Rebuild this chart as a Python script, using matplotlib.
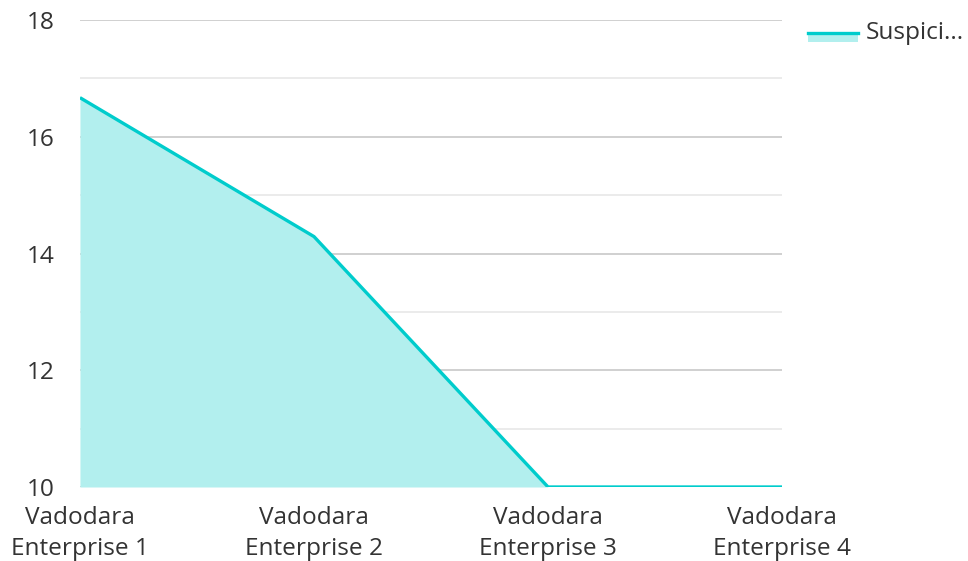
import matplotlib.pyplot as plt
from matplotlib.lines import Line2D
from matplotlib.patches import Rectangle

plt.rcParams['font.family'] = ['Open Sans', 'DejaVu Sans']

categories = ['Vadodara\nEnterprise 1', 'Vadodara\nEnterprise 2',
              'Vadodara\nEnterprise 3', 'Vadodara\nEnterprise 4']
values = [16.67, 14.29, 10, 10]
series_name = 'Suspici...'

line_color = '#00cccc'
fill_color = '#b2efee'
text_color = '#333333'
fs = 17.6

fig = plt.figure(figsize=(9.68, 5.61), dpi=100)
ax = fig.add_axes([0.0826, 0.1319, 0.7253, 0.8324])

x = range(len(categories))
ax.fill_between(x, values, 10, color=fill_color, lw=0, zorder=2)
ax.plot(x, values, color=line_color, lw=2.4, zorder=3, solid_capstyle='butt')

ax.set_xlim(0, len(categories) - 1)
ax.set_ylim(10, 18)
ax.set_yticks([10, 12, 14, 16, 18])
ax.set_yticks([11, 13, 15, 17], minor=True)
ax.set_xticks(list(x))
ax.set_xticklabels(categories)

ax.grid(axis='y', which='major', color='#c8c8c8', lw=1.2, zorder=1)
ax.grid(axis='y', which='minor', color='#e8e8e8', lw=1.2, zorder=1)
for s in ax.spines.values():
    s.set_visible(False)
ax.tick_params(axis='both', which='both', length=0, labelsize=fs,
               labelcolor=text_color)
ax.tick_params(axis='y', pad=18)
ax.tick_params(axis='x', pad=14)
for lbl in ax.get_xticklabels():
    lbl.set_linespacing(1.38)

# legend
fig.add_artist(Rectangle((808 / 968, 1 - 42 / 561), 50 / 968, 9 / 561,
                         transform=fig.transFigure, color=fill_color, lw=0))
fig.add_artist(Line2D([808 / 968, 858 / 968], [1 - 33 / 561, 1 - 33 / 561],
                      transform=fig.transFigure, color=line_color, lw=2.4))
fig.text(866 / 968, 1 - 33 / 561, series_name, fontsize=fs,
         color=text_color, va='center', ha='left')

fig.savefig('out.png', dpi=100)
